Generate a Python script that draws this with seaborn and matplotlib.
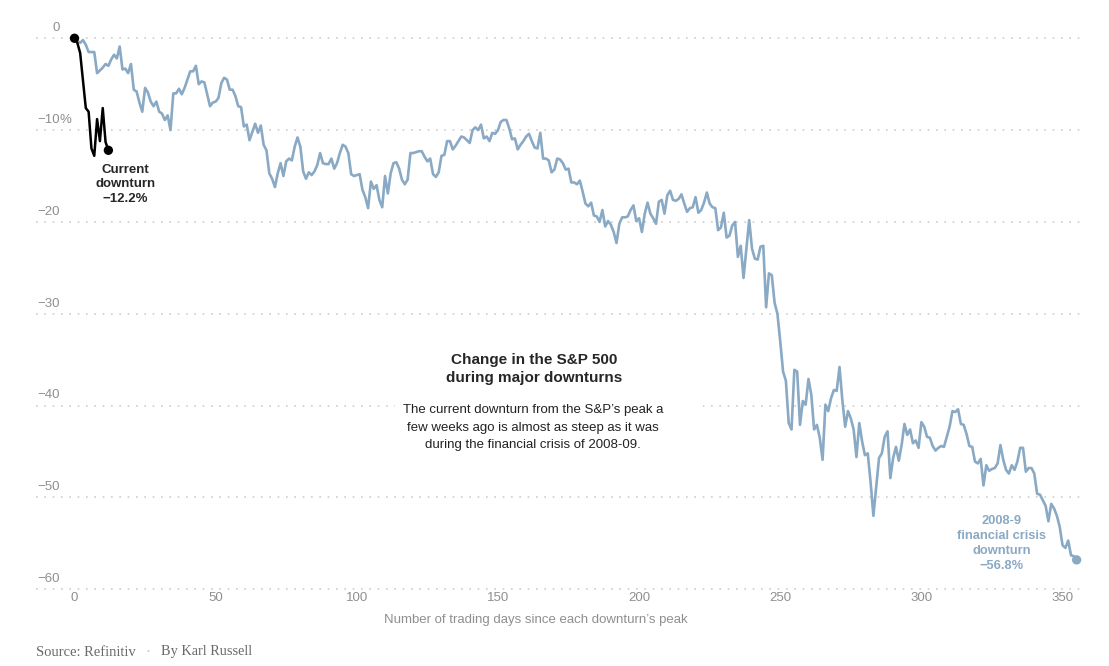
import numpy as np
import pandas as pd
import seaborn as sns
import matplotlib.pyplot as plt
from matplotlib.patches import Rectangle

# percent change from the peak, one value per trading day
crisis_pct = [
    0.0, -0.3, -0.5, -0.2, -0.7, -1.5, -1.5, -1.5, -3.8, -3.5,
    -3.2, -2.8, -3.0, -2.3, -1.8, -2.2, -0.9, -3.4, -3.3, -3.8,
    -2.8, -5.6, -5.8, -7.0, -8.0, -5.4, -5.9, -6.9, -7.4, -6.9,
    -8.0, -8.2, -8.9, -8.4, -10.0, -6.0, -6.0, -5.5, -6.1, -5.4,
    -4.5, -3.6, -3.6, -3.0, -5.0, -4.7, -4.8, -6.1, -7.4, -7.0,
    -6.9, -6.5, -4.9, -4.3, -4.5, -5.6, -5.6, -6.3, -7.4, -7.5,
    -9.6, -9.4, -11.1, -10.2, -9.3, -10.3, -9.5, -11.6, -12.2, -14.7,
    -15.3, -16.2, -14.7, -13.6, -15.0, -13.4, -13.1, -13.3, -11.8, -10.8,
    -11.8, -14.5, -15.3, -14.6, -14.9, -14.5, -13.8, -12.5, -13.6, -13.7,
    -13.7, -13.1, -14.2, -13.6, -12.5, -11.6, -11.8, -12.5, -14.8, -15.0,
    -14.9, -14.8, -16.5, -17.3, -18.5, -15.6, -16.4, -16.0, -17.6, -18.4,
    -15.0, -16.9, -14.7, -13.6, -13.5, -14.2, -15.4, -15.9, -15.4, -12.5,
    -12.5, -12.4, -12.3, -12.3, -12.9, -13.4, -13.1, -14.8, -15.1, -14.6,
    -12.8, -12.7, -11.2, -11.2, -12.1, -11.7, -11.2, -10.7, -10.8, -11.1,
    -11.4, -10.0, -9.7, -10.0, -9.4, -10.9, -10.7, -11.2, -10.3, -10.4,
    -10.0, -9.1, -8.9, -8.9, -9.8, -11.0, -10.9, -12.1, -11.6, -11.2,
    -10.7, -10.4, -11.2, -11.9, -12.0, -10.3, -13.1, -13.1, -13.3, -14.6,
    -14.3, -13.1, -13.2, -13.6, -14.3, -14.2, -15.7, -15.7, -15.9, -15.5,
    -16.7, -18.0, -18.3, -17.9, -19.3, -19.4, -20.0, -18.7, -20.5, -19.9,
    -20.3, -21.1, -22.3, -20.2, -19.5, -19.5, -19.4, -18.7, -18.2, -19.9,
    -19.6, -21.1, -19.1, -17.9, -19.1, -19.6, -20.2, -17.8, -17.6, -19.1,
    -17.1, -16.6, -17.6, -17.7, -17.5, -17.0, -18.0, -18.9, -18.5, -18.4,
    -17.3, -19.0, -18.7, -17.9, -16.8, -18.0, -18.4, -18.5, -20.9, -20.6,
    -19.0, -21.7, -21.5, -20.4, -20.0, -23.8, -22.6, -26.1, -22.9, -19.8,
    -22.9, -24.0, -24.1, -22.7, -22.6, -29.3, -25.6, -25.8, -28.8, -30.0,
    -33.0, -36.3, -37.3, -41.9, -42.6, -36.1, -36.3, -42.1, -39.5, -39.9,
    -37.1, -38.8, -42.6, -42.1, -43.5, -45.9, -39.9, -40.6, -39.2, -38.3,
    -38.4, -35.8, -39.4, -42.3, -40.6, -41.4, -42.6, -45.6, -41.9, -43.9,
    -45.4, -45.2, -48.3, -52.0, -48.9, -45.7, -45.2, -43.4, -42.8, -47.9,
    -45.7, -44.5, -46.0, -44.3, -42.0, -43.2, -42.6, -44.1, -43.8, -44.6,
    -41.8, -42.3, -43.4, -43.5, -44.4, -44.9, -44.6, -44.4, -44.5, -43.4,
    -42.3, -40.6, -40.7, -40.4, -42.0, -42.1, -43.1, -44.4, -44.5, -46.1,
    -46.3, -45.8, -48.7, -46.5, -47.1, -46.9, -46.8, -46.3, -44.3, -45.9,
    -47.0, -47.4, -46.5, -47.0, -46.1, -44.6, -44.6, -47.2, -46.8, -46.8,
    -47.4, -49.6, -49.7, -50.3, -50.9, -52.6, -50.7, -51.2, -52.0, -53.2,
    -55.2, -55.5, -54.7, -56.3, -56.4, -56.8,
]
current_pct = [0.0, -0.5, -1.6, -4.6, -7.6, -8.0, -12.0, -12.8, -8.8, -11.2, -7.6, -11.3, -12.2]

y_ticks = [0, -10, -20, -30, -40, -50, -60]
x_ticks = [0, 50, 100, 150, 200, 250, 300, 350]

crisis = pd.DataFrame({"day": np.arange(len(crisis_pct)), "pct": crisis_pct})
current = pd.DataFrame({"day": np.arange(len(current_pct)), "pct": current_pct})

BLUE = "#89a9c4"
GRAY = "#8f8f8f"
SANS = ["Liberation Sans", "DejaVu Sans"]
SERIF = ["Liberation Serif", "DejaVu Serif"]

sns.set_style("white")
plt.rcParams["font.family"] = SANS

W, H = 1109, 666
fig = plt.figure(figsize=(W / 100, H / 100), dpi=100)
ax = fig.add_axes([36 / W, 1 - 591 / H, (1085 - 36) / W, (591 - 30) / H])

sns.lineplot(data=crisis, x="day", y="pct", color=BLUE, linewidth=1.9, ax=ax, zorder=3)
sns.lineplot(data=current, x="day", y="pct", color="black", linewidth=1.8, ax=ax, zorder=4)

ends = current.iloc[[0, -1]]
sns.scatterplot(data=ends, x="day", y="pct", color="black", s=45, edgecolor="none",
                zorder=5, clip_on=False, ax=ax)
sns.scatterplot(data=crisis.iloc[[-1]], x="day", y="pct", color=BLUE, s=45, edgecolor="none",
                zorder=5, clip_on=False, ax=ax)

ax.set_xlim(-13.64, 357.96)
ax.set_ylim(-60.19, 0.9)
ax.set_xlabel("")
ax.set_ylabel("")

ax.set_yticks(y_ticks)
ax.set_axisbelow(True)
ax.yaxis.grid(True, linestyle=(0, (1, 4)), color="#cdcdcd", linewidth=1.2)
ax.xaxis.grid(False)
ax.tick_params(axis="y", length=0, labelleft=False)
ax.set_xticks(x_ticks)
ax.set_xticklabels([str(t) for t in x_ticks])
ax.tick_params(axis="x", length=0, pad=1, labelcolor=GRAY, labelsize=9.5)
sns.despine(ax=ax, left=True, bottom=True)

for v in y_ticks:
    num = "0" if v == 0 else f"\u2212{abs(v)}"
    ax.text(-5.14, v + 1.1, num, ha="right", va="center", color=GRAY, fontsize=9.5)
    if v == -10:
        ax.text(-5.14, v + 1.1, "%", ha="left", va="center", color=GRAY, fontsize=9.5)

# white panel that breaks the gridline behind the chart title
ax.add_patch(Rectangle((113.5, -46.1), 109.1, 13.3, facecolor="white",
                       edgecolor="none", zorder=1))

ax.text(18.1, -15.9, "Current\ndownturn\n\u221212.2%", ha="center", va="center",
        fontsize=9.5, fontweight="bold", linespacing=1.28, zorder=6)
ax.text(328.4, -55.0, "2008-9\nfinancial crisis\ndownturn\n\u221256.8%", ha="center",
        va="center", fontsize=9.3, fontweight="bold", color=BLUE,
        linespacing=1.32, zorder=6)

fig.text(534 / W, 1 - 369 / H, "Change in the S&P 500\nduring major downturns",
         ha="center", va="center", fontsize=11, fontweight="bold",
         linespacing=1.45)
fig.text(533 / W, 1 - 427.5 / H,
         "The current downturn from the S&P\u2019s peak a\n"
         "few weeks ago is almost as steep as it was\n"
         "during the financial crisis of 2008-09.",
         ha="center", va="center", fontsize=9.5, color="#222222", linespacing=1.62)

fig.text(536 / W, 1 - 620 / H, "Number of trading days since each downturn\u2019s peak",
         ha="center", va="center", fontsize=9.5, color=GRAY)

fig.text(36 / W, 1 - 652 / H, "Source: Refinitiv", ha="left", va="center",
         fontsize=10.5, color="#6a6a6a", family=SERIF)
fig.text(148 / W, 1 - 652 / H, "\u2022", ha="center", va="center",
         fontsize=6, color="#cccccc")
fig.text(161 / W, 1 - 652 / H, "By Karl Russell", ha="left", va="center",
         fontsize=10.3, color="#6a6a6a", family=SERIF)

fig.savefig("out.png", dpi=100)
